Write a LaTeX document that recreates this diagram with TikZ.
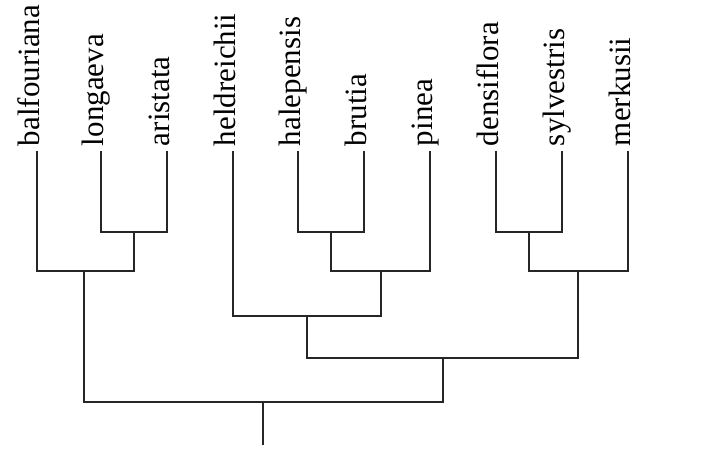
\documentclass[tikz,border=0pt]{standalone}
\usepackage{fontspec}
\setmainfont{Liberation Serif}
\begin{document}
\begin{tikzpicture}[x=1pt,y=-1pt,line width=2pt,
  leaf/.style={rotate=90,anchor=mid west,inner sep=0pt,font=\fontsize{31}{33}\selectfont},
  br/.style={draw=black!85}]
\useasboundingbox (0,0) rectangle (704,451);
\foreach \n/\x in {balfouriana/37,longaeva/101,aristata/167,heldreichii/233,halepensis/298,brutia/364,pinea/430,densiflora/496,sylvestris/562,merkusii/628}{
  \node[leaf] (\n) at (\x,147) {\n};
  \coordinate (t\n) at (\x,151);
}
\coordinate (a) at (134,232);
\coordinate (b) at (84,271);
\coordinate (c) at (331,232);
\coordinate (d) at (381,271);
\coordinate (e) at (307,316);
\coordinate (f) at (529,232);
\coordinate (g) at (578,271);
\coordinate (h) at (443,358);
\coordinate (r) at (263,402);
\coordinate (root) at (263,445);
\draw[br] (tlongaeva) |- (a) -| (taristata);
\draw[br] (tbalfouriana) |- (b) -| (a);
\draw[br] (thalepensis) |- (c) -| (tbrutia);
\draw[br] (c) |- (d) -| (tpinea);
\draw[br] (theldreichii) |- (e) -| (d);
\draw[br] (tdensiflora) |- (f) -| (tsylvestris);
\draw[br] (f) |- (g) -| (tmerkusii);
\draw[br] (e) |- (h) -| (g);
\draw[br] (b) |- (r) -| (h);
\draw[br] (r) -- (root);
\end{tikzpicture}
\end{document}
